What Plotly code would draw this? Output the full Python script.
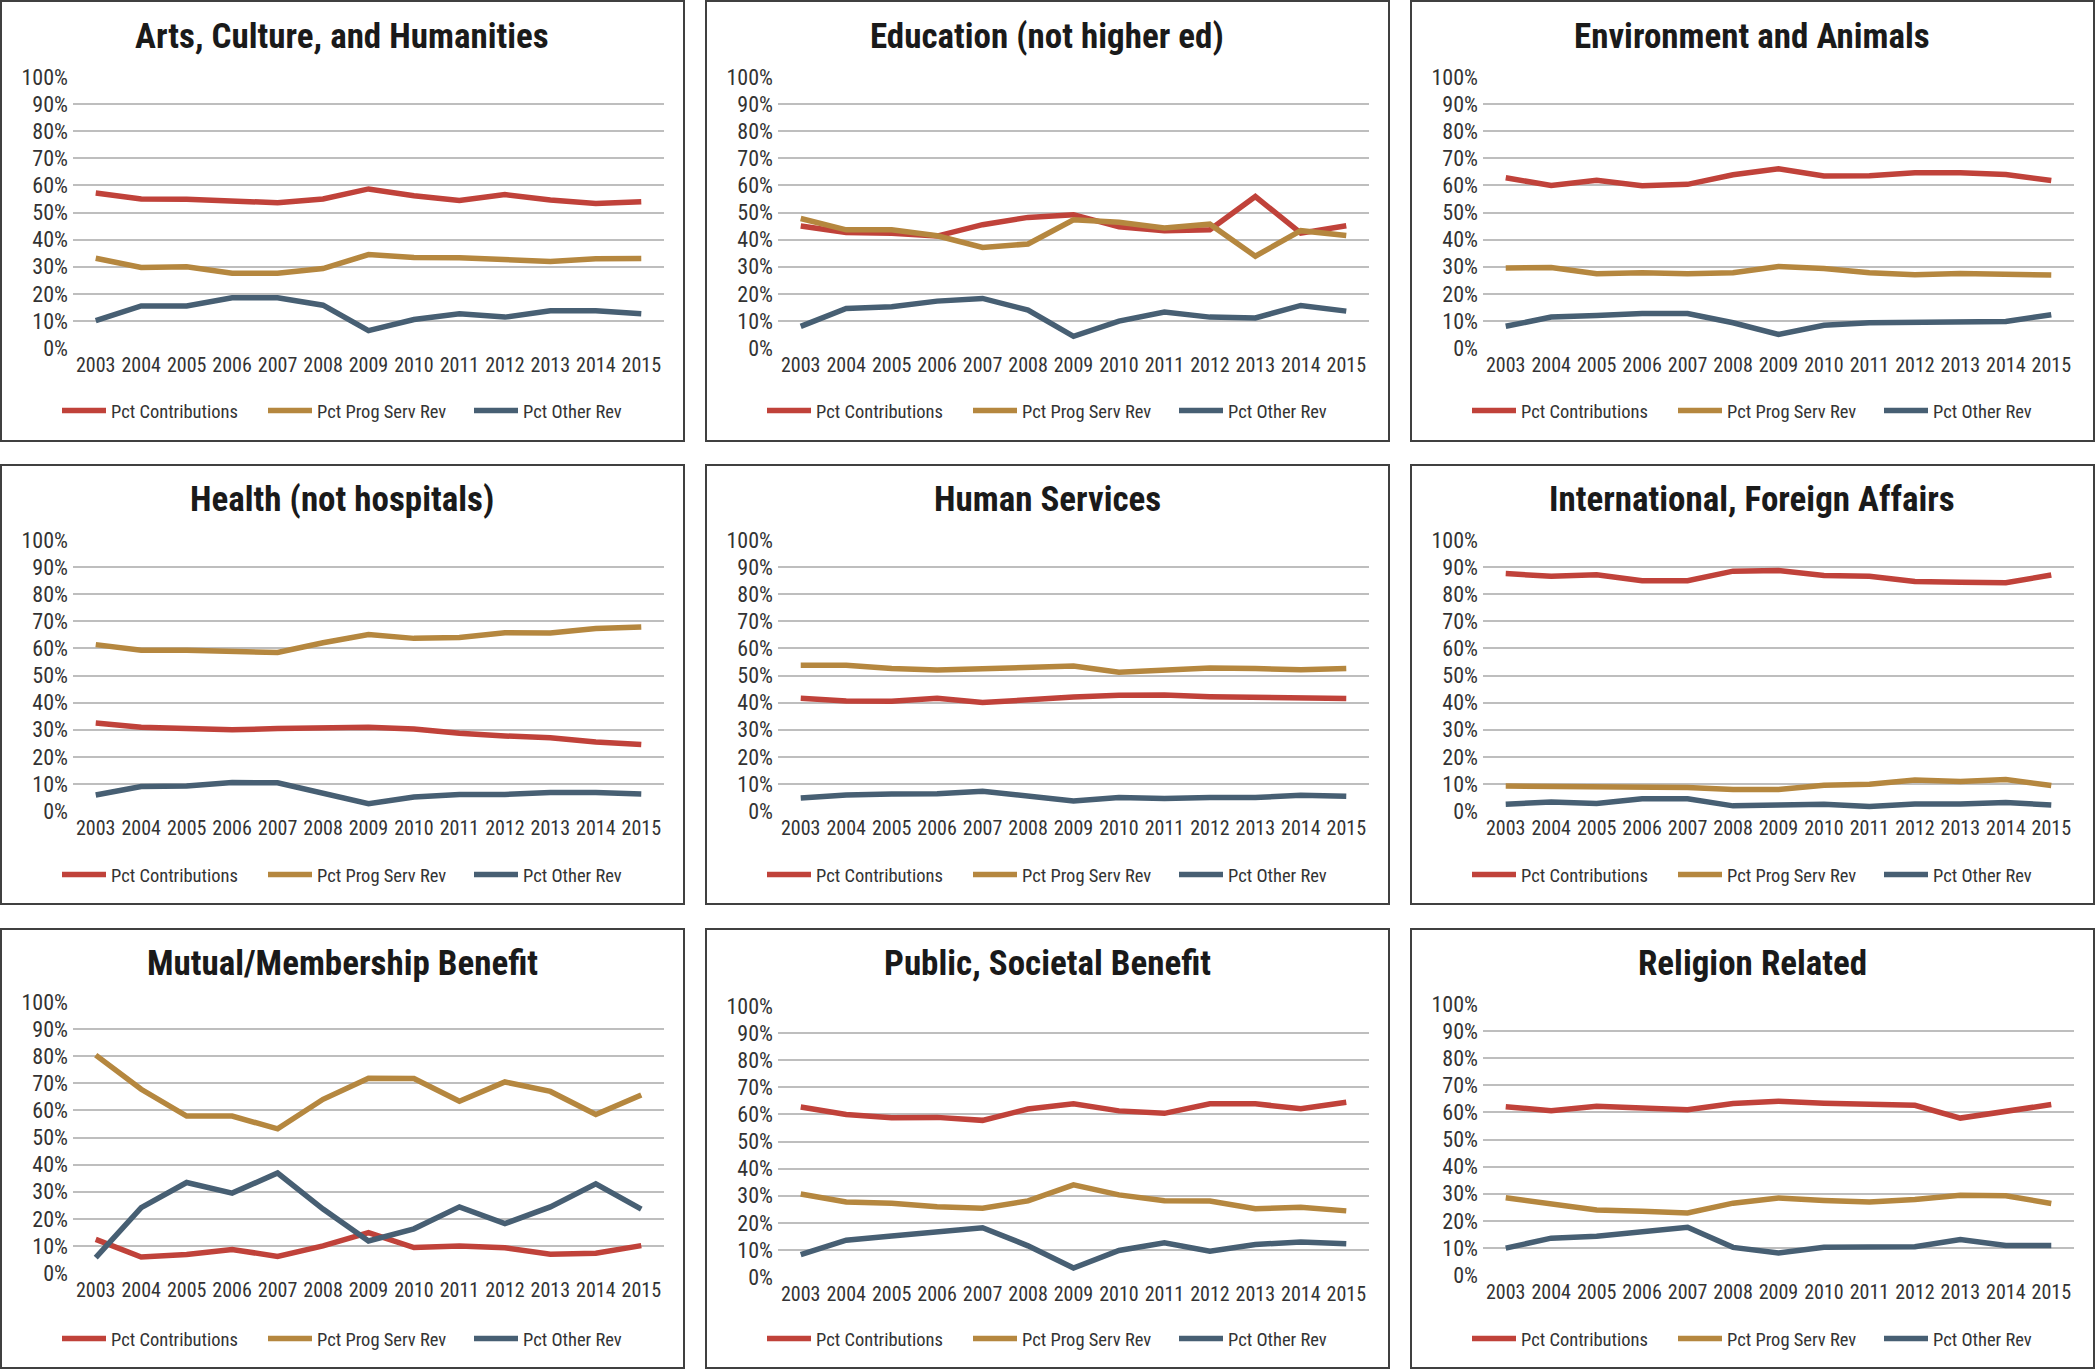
import plotly.graph_objects as go

# ---------------- data ----------------
years = ["2003", "2004", "2005", "2006", "2007", "2008", "2009",
         "2010", "2011", "2012", "2013", "2014", "2015"]
y_ticks = [0, 10, 20, 30, 40, 50, 60, 70, 80, 90, 100]
y_tick_labels = ["0%", "10%", "20%", "30%", "40%", "50%", "60%", "70%", "80%", "90%", "100%"]
series_names = ["Pct Contributions", "Pct Prog Serv Rev", "Pct Other Rev"]

titles = ["Arts, Culture, and Humanities", "Education (not higher ed)",
          "Environment and Animals", "Health (not hospitals)", "Human Services",
          "International, Foreign Affairs", "Mutual/Membership Benefit",
          "Public, Societal Benefit", "Religion Related"]

arts_contrib = [57.2, 55.0, 54.9, 54.4, 53.6, 55.0, 58.7, 56.2, 54.4, 56.6, 54.6, 53.3, 54.0]
arts_prog = [33.1, 29.7, 30.0, 27.6, 27.6, 29.3, 34.5, 33.4, 33.3, 32.4, 31.9, 32.9, 33.0]
arts_other = [10.1, 15.5, 15.5, 18.5, 18.5, 15.8, 6.4, 10.5, 12.6, 11.4, 13.7, 13.7, 12.6]

edu_contrib = [45.0, 42.6, 42.3, 41.3, 45.5, 48.2, 49.2, 44.7, 43.3, 43.6, 55.9, 42.4, 45.1]
edu_prog = [47.8, 43.6, 43.6, 41.4, 37.1, 38.4, 47.3, 46.4, 44.3, 45.7, 33.9, 43.3, 41.5]
edu_other = [8.0, 14.6, 15.2, 17.3, 18.3, 14.0, 4.3, 9.9, 13.3, 11.4, 11.1, 15.7, 13.6]

env_contrib = [62.8, 60.0, 61.9, 59.9, 60.4, 63.9, 66.1, 63.5, 63.6, 64.7, 64.7, 64.0, 61.8]
env_prog = [29.5, 29.7, 27.4, 27.8, 27.4, 27.8, 30.1, 29.3, 27.8, 27.0, 27.5, 27.2, 26.9]
env_other = [8.0, 11.4, 12.0, 12.7, 12.7, 9.3, 5.0, 8.4, 9.3, 9.3, 9.5, 9.8, 12.3]

health_contrib = [32.5, 30.9, 30.4, 30.0, 30.4, 30.7, 30.9, 30.3, 28.7, 27.7, 27.0, 25.5, 24.5]
health_prog = [61.4, 59.3, 59.3, 59.0, 58.5, 62.1, 65.1, 63.7, 64.0, 65.8, 65.7, 67.3, 67.9]
health_other = [5.9, 9.0, 9.2, 10.5, 10.4, 6.4, 2.7, 5.2, 6.1, 6.1, 6.8, 6.8, 6.3]

human_contrib = [41.6, 40.6, 40.5, 41.6, 40.0, 41.2, 42.1, 42.7, 42.8, 42.2, 41.8, 41.6, 41.5]
human_prog = [53.8, 53.8, 52.6, 52.0, 52.5, 53.1, 53.5, 51.2, 52.0, 52.8, 52.6, 52.1, 52.6]
human_other = [4.8, 5.9, 6.3, 6.4, 7.3, 5.4, 3.7, 5.0, 4.6, 5.0, 5.0, 5.8, 5.4]

intl_contrib = [87.6, 86.6, 87.2, 85.0, 85.0, 88.5, 88.7, 86.9, 86.6, 84.7, 84.4, 84.2, 87.1]
intl_prog = [9.2, 9.2, 8.7, 8.7, 8.7, 7.9, 7.9, 9.5, 9.9, 11.4, 10.9, 11.6, 9.4]
intl_other = [2.5, 3.3, 2.8, 4.5, 4.5, 1.9, 2.2, 2.5, 1.7, 2.6, 2.6, 3.1, 2.2]

mutual_contrib = [12.4, 5.9, 6.8, 8.7, 6.1, 10.0, 14.9, 9.4, 10.0, 9.3, 6.9, 7.3, 10.1]
mutual_prog = [80.4, 67.8, 57.9, 57.9, 53.2, 64.1, 71.9, 71.8, 63.4, 70.5, 67.0, 58.5, 65.7]
mutual_other = [5.7, 24.1, 33.4, 29.5, 36.9, 23.6, 11.8, 16.3, 24.4, 18.2, 24.4, 32.9, 23.6]

public_contrib = [62.7, 60.0, 58.8, 58.9, 57.8, 62.0, 63.9, 61.3, 60.4, 63.9, 63.9, 62.1, 64.5]
public_prog = [30.6, 27.7, 27.2, 25.9, 25.4, 28.1, 34.0, 30.3, 28.1, 28.0, 25.2, 25.7, 24.4]
public_other = [8.3, 13.6, 15.1, 16.5, 18.2, 11.5, 3.3, 9.8, 12.6, 9.5, 12.0, 12.9, 12.3]

relig_contrib = [62.1, 60.6, 62.3, 61.6, 61.0, 63.3, 64.1, 63.4, 62.8, 62.6, 57.9, 60.5, 62.9]
relig_prog = [28.5, 26.4, 24.0, 23.5, 22.9, 26.5, 28.4, 27.5, 26.9, 27.9, 29.4, 29.2, 26.4]
relig_other = [9.9, 13.6, 14.3, 16.1, 17.6, 10.2, 8.1, 10.2, 10.4, 10.4, 13.1, 10.9, 10.9]

panels = [
    (arts_contrib, arts_prog, arts_other),
    (edu_contrib, edu_prog, edu_other),
    (env_contrib, env_prog, env_other),
    (health_contrib, health_prog, health_other),
    (human_contrib, human_prog, human_other),
    (intl_contrib, intl_prog, intl_other),
    (mutual_contrib, mutual_prog, mutual_other),
    (public_contrib, public_prog, public_other),
    (relig_contrib, relig_prog, relig_other),
]

# ---------------- style / layout ----------------
W, H = 2097, 1372
colors = ["#C0423A", "#B5873F", "#475F73"]
FONT = ("Liberation Sans Narrow, Roboto Condensed, Open Sans Condensed, "
        "Noto Sans Condensed, DejaVu Sans Condensed, Roboto, sans-serif")
TICK_COLOR = "#333333"
GRID_COLOR = "#BEBEBE"
box_lefts = [0, 705, 1410]
box_tops = [1, 465, 929]
box_bots = [441, 904, 1368]
plot_tops = [77, 77, 77, 540, 540, 540, 1002, 1006, 1004]
BOX_W = 684
NO_TOP_GRID = {2}   # the Environment panel has no 100% gridline


def fx(px):
    return px / W


def fy(py):
    return 1 - py / H


fig = go.Figure()
layout = dict(
    width=W, height=H,
    margin=dict(l=0, r=0, t=0, b=0, autoexpand=False),
    paper_bgcolor="white", plot_bgcolor="white",
    showlegend=True,
    shapes=[], annotations=[],
    font=dict(family=FONT, color=TICK_COLOR),
)

for i, vals in enumerate(panels):
    r, c = divmod(i, 3)
    k = "" if i == 0 else str(i + 1)
    bl = box_lefts[c]
    bt, bb = box_tops[r], box_bots[r]
    pt = plot_tops[i]
    pb = pt + 271
    leg = "legend" if i == 0 else "legend" + str(i + 1)

    for s in range(3):
        fig.add_trace(go.Scatter(
            x=years, y=vals[s], mode="lines", name=series_names[s],
            line=dict(color=colors[s], width=5.5),
            xaxis="x" + k, yaxis="y" + k, legend=leg,
            hoverinfo="skip",
        ))

    layout["xaxis" + k] = dict(
        domain=[fx(bl + 73), fx(bl + 664)], anchor="y" + k,
        type="category", range=[-0.5, 12.5], showgrid=False,
        zeroline=False, showline=False, ticks="", tickangle=0,
        tickfont=dict(family=FONT, size=20, color=TICK_COLOR),
        ticklabelstandoff=3, fixedrange=True, automargin=False,
    )
    if i in NO_TOP_GRID:
        tv, tt = y_ticks[:-1], y_tick_labels[:-1]
    else:
        tv, tt = y_ticks, y_tick_labels
    layout["yaxis" + k] = dict(
        domain=[fy(pb), fy(pt)], anchor="x" + k,
        range=[0, 100], tickmode="array", tickvals=tv, ticktext=tt,
        showgrid=True, gridcolor=GRID_COLOR, gridwidth=1.5,
        zeroline=False, showline=False, ticks="",
        tickfont=dict(family=FONT, size=22, color=TICK_COLOR),
        ticklabelstandoff=4, fixedrange=True, automargin=False,
    )
    if i in NO_TOP_GRID:
        # label-only overlay axis for the 100% tick (no gridline there)
        ov = str(20 + i)
        layout["yaxis" + ov] = dict(
            overlaying="y" + k, anchor="x" + k, side="left",
            range=[0, 100], tickmode="array", tickvals=y_ticks[-1:],
            ticktext=y_tick_labels[-1:], showgrid=False, zeroline=False,
            showline=False, ticks="",
            tickfont=dict(family=FONT, size=22, color=TICK_COLOR),
            ticklabelstandoff=4, fixedrange=True, automargin=False,
        )
        fig.add_trace(go.Scatter(
            x=years[:1], y=[None], mode="lines", showlegend=False,
            xaxis="x" + k, yaxis="y" + ov, hoverinfo="skip",
        ))
    layout[leg] = dict(
        x=fx(bl + 57), y=fy(bt + 410), xanchor="left", yanchor="middle",
        orientation="h", font=dict(family=FONT, size=18.5, color=TICK_COLOR),
        bgcolor="rgba(0,0,0,0)", itemwidth=44, entrywidth=147,
        itemclick=False, itemdoubleclick=False,
    )
    layout["shapes"].append(dict(
        type="rect", xref="paper", yref="paper",
        x0=fx(bl + 1), x1=fx(bl + BOX_W), y0=fy(bb), y1=fy(bt),
        line=dict(color="#404040", width=2), fillcolor="rgba(0,0,0,0)",
        layer="above",
    ))
    layout["annotations"].append(dict(
        text=titles[i], xref="paper", yref="paper",
        x=fx(bl + BOX_W / 2), y=fy(bt + 35), xanchor="center", yanchor="middle",
        showarrow=False,
        font=dict(family=FONT, size=35, color="#1a1a1a", weight="bold"),
    ))

fig.update_layout(**layout)
fig.write_html("out.html", config={"displayModeBar": False})
